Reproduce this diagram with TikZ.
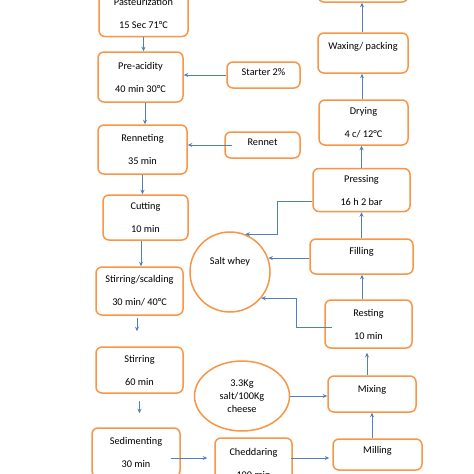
\documentclass[tikz,border=0pt]{standalone}
\usepackage{fontspec}
\setmainfont{Carlito}
\usetikzlibrary{arrows.meta,shapes.geometric,calc}
\definecolor{boxorange}{HTML}{F79646}
\definecolor{arrowblue}{HTML}{4F81BD}
\begin{document}
\begin{tikzpicture}[x=1pt,y=-1pt,
  stepbox/.style={draw=boxorange,line width=1.5pt,rounded corners=6pt,inner sep=0pt,
    align=center,font=\fontsize{10.3}{12.3}\selectfont,text=black},
  wh/.style n args={2}{minimum width=#1pt,minimum height=#2pt},
  roundbox/.style={draw=boxorange,line width=1.5pt,inner sep=0pt,align=center,
    font=\fontsize{10.3}{12.3}\selectfont,text=black},
  arr/.style={draw=arrowblue,line width=0.8pt,-{Stealth[length=4.5pt,width=4pt]}},
  raise/.style={text depth=#1pt}
]
\fill[white] (0,0) rectangle (474,474);
\clip (0,0) rectangle (474,474);
\useasboundingbox (0,0) rectangle (474,474);

% left column
\node[stepbox,wh={89}{46}] (past) at (143.5,13.5) {Pasteurization\\[10.7pt]15 Sec 71°C};
\node[stepbox,wh={85}{50}] (pre) at (140.5,77) {Pre-acidity\\[10.7pt]40 min 30°C};
\node[stepbox,wh={73}{26},raise=6] (starter) at (263.5,75) {Starter 2\%};
\node[stepbox,wh={89}{49}] (renn) at (142.5,149.5) {Renneting\\[10.7pt]35 min};
\node[stepbox,wh={75}{26},raise=6] (rennet) at (262.5,145) {Rennet};
\node[stepbox,wh={85}{45}] (cut) at (145.5,217.5) {Cutting\\[10.7pt]10 min};
\node[stepbox,wh={87}{48}] (scald) at (139.5,291) {Stirring/scalding\\[10.7pt]30 min/ 40°C};
\node[stepbox,wh={87}{46}] (stir) at (139.5,370) {Stirring\\[10.7pt]60 min};
\node[stepbox,wh={88}{49}] (sed) at (136,452.5) {Sedimenting\\[10.7pt]30 min};
\node[stepbox,wh={77}{50}] (ched) at (253.5,463) {Cheddaring\\[10.7pt]100 min};

% right column
\node[stepbox,wh={89}{31},raise=10] (mill) at (377.5,454.5) {Milling};
\node[stepbox,wh={88}{36},raise=11] (mix) at (372,394) {Mixing};
\node[stepbox,wh={87}{48}] (rest) at (368.5,324) {Resting\\[10.7pt]10 min};
\node[stepbox,wh={103}{35},raise=11] (fill) at (361.5,256.5) {Filling};
\node[stepbox,wh={97}{43}] (press) at (361.5,190) {Pressing\\[10.7pt]16 h 2 bar};
\node[stepbox,wh={89}{45}] (dry) at (363.5,122.5) {Drying\\[10.7pt]4 c/ 12°C};
\node[stepbox,wh={90}{40},raise=14] (wax) at (363,53) {Waxing/ packing};
\node[stepbox,wh={90}{40}] (final) at (363,-18) {};

% round shapes
\node[roundbox,circle,minimum size=80pt] (whey) at (230,272) {Salt whey\\[10pt]\mbox{}};
\node[roundbox,ellipse,minimum width=95pt,minimum height=70pt] (salt) at (242,396) {3.3Kg\\[1pt]salt/100Kg\\[1pt]cheese};

% helper points
\coordinate (sedout) at ($(sed.east)+(-10,5.5)$);
\coordinate (chedout) at ($(ched.east)+(-2,-5)$);
\coordinate (millin) at (chedout -| mill.west);
\coordinate (rennetout) at ($(rennet.west)+(8,0)$);

% connectors, left column
\draw[arr] (past.south) -- (past.south |- pre.north);
\draw[arr] (starter.west) -- (starter.west -| pre.east);
\draw[arr] ([xshift=4.5pt]pre.south) -- ([xshift=4.5pt]pre.south |- renn.north);
\draw[arr] (rennetout) -- (rennetout -| renn.east);
\draw[arr] (renn.south) -- (renn.south |- cut.north);
\draw[arr] ([xshift=1.5pt]scald.north |- cut.south) -- ([xshift=1.5pt]scald.north);
\draw[arr,shorten <=2pt,shorten >=15pt] ([xshift=-2.5pt]scald.south) -- ([xshift=-2.5pt]scald.south |- stir.north);
\draw[arr,shorten <=7pt,shorten >=14pt] (stir.south) -- (stir.south |- sed.north);
\draw[arr,shorten >=7pt] (sedout) -- (sedout -| ched.west);
\draw[arr,shorten >=3pt] (chedout) -- (millin);

% connectors, right column
\draw[arr] (mix.south |- mill.north) -- (mix.south);
\draw[arr] (salt.east) -- (salt.east -| mix.west);
\draw[arr,shorten >=4pt] ([xshift=-5pt]mix.north) -- ([xshift=-5pt]mix.north |- rest.south);
\draw[arr] ([xshift=-6.5pt]rest.north) -- ([xshift=-6.5pt]rest.north |- fill.south);
\draw[arr] (fill.north) -- (fill.north |- press.south);
\draw[arr] (press.north) -- (press.north |- dry.south);
\draw[arr] ([xshift=-1.5pt]dry.north) -- ([xshift=-1.5pt]dry.north |- wax.south);
\draw[arr] ([xshift=-1pt]wax.north) -- ([xshift=-1pt]wax.north |- final.south);

% connectors to salt whey
\draw[arr] ($(press.west)+(0,11)$) -- ++(-35,0) |- (whey.68);
\draw[arr] (fill.west |- whey.20) -- (whey.20);
\draw[arr] ($(rest.west)+(8,3)$) -- ++(-36,0) |- (whey.-40);
\end{tikzpicture}
\end{document}
